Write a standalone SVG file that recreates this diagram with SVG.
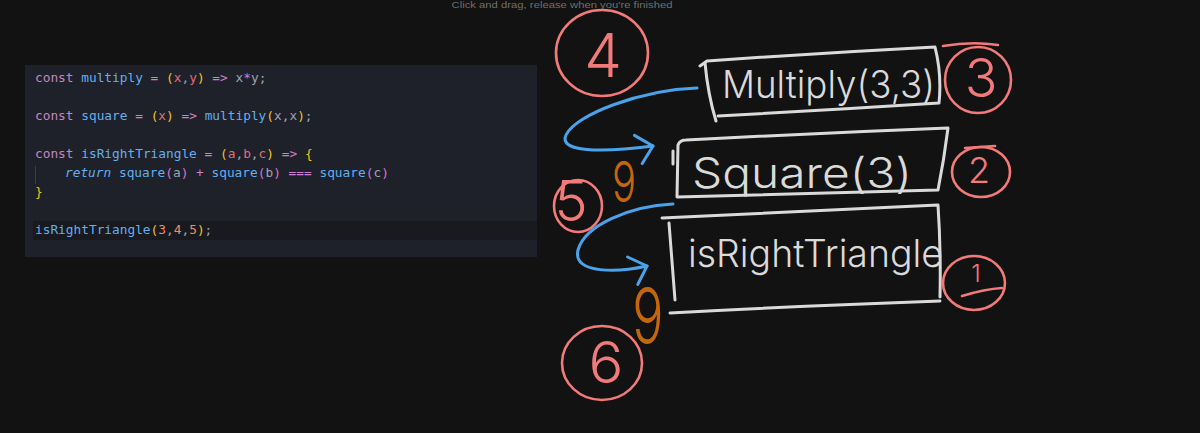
<svg xmlns="http://www.w3.org/2000/svg" width="1200" height="433" viewBox="0 0 1200 433">
<defs>
<style>
.code{font-family:"DejaVu Sans Mono","Liberation Mono",monospace;font-size:12.8px;fill:#9da3ad}
.kw{fill:#c586c0}.fn{fill:#61afef}.op{fill:#d27bc6}.b1{fill:#f2c21b}.b2{fill:#da70d6}.pa{fill:#e06c75}.pl{fill:#9da3ad}.nu{fill:#f08d5f}.rt{fill:#61afef;font-style:italic}
.box{fill:none;stroke:#dadada;stroke-width:3;stroke-linecap:round;stroke-linejoin:round}
.hw{font-family:Inter,"Liberation Sans",Arial,sans-serif;font-weight:300;fill:#dadada}
.ring{fill:none;stroke:#f27a7a;stroke-width:2.6;stroke-linecap:round}
.num{font-family:Inter,"Liberation Sans",Arial,sans-serif;font-weight:300;fill:#f27a7a;text-anchor:middle}
.flow{fill:none;stroke:#4aa3ea;stroke-width:3;stroke-linecap:round;stroke-linejoin:round}
.ret{font-family:Inter,"Liberation Sans",Arial,sans-serif;font-weight:300;fill:#c4660c;text-anchor:middle}
</style>
<marker id="chev" viewBox="-20 -20 24 40" markerWidth="24" markerHeight="40" refX="0" refY="0" orient="auto" markerUnits="userSpaceOnUse">
<path d="M-17,-13 L0,0 L-13,16" fill="none" stroke="#4aa3ea" stroke-width="3" stroke-linecap="round" stroke-linejoin="round"/>
</marker>
</defs>
<rect width="1200" height="433" fill="#121212"/>
<text x="562" y="8" font-family="Liberation Sans,Arial,sans-serif" font-size="9" fill="#6e6e6e" text-anchor="middle" textLength="221" lengthAdjust="spacingAndGlyphs">Click and drag, release when you're finished</text>

<g id="code-panel">
<rect x="25" y="65" width="512" height="192" fill="#1f212a"/>
<rect x="33" y="221" width="504" height="19" fill="#181a20"/>
<line x1="35.5" y1="166" x2="35.5" y2="184" stroke="#3a3d48" stroke-width="1"/>
<text class="code" x="35" y="82" xml:space="preserve"><tspan class="kw">const</tspan> <tspan class="fn">multiply</tspan> <tspan class="op">=</tspan> <tspan class="b1">(</tspan><tspan class="pa">x</tspan>,<tspan class="pa">y</tspan><tspan class="b1">)</tspan> <tspan class="op">=&gt;</tspan> x<tspan class="op">*</tspan>y;</text>
<text class="code" x="35" y="120" xml:space="preserve"><tspan class="kw">const</tspan> <tspan class="fn">square</tspan> <tspan class="op">=</tspan> <tspan class="b1">(</tspan><tspan class="pa">x</tspan><tspan class="b1">)</tspan> <tspan class="op">=&gt;</tspan> <tspan class="fn">multiply</tspan><tspan class="b1">(</tspan>x,x<tspan class="b1">)</tspan>;</text>
<text class="code" x="35" y="158" xml:space="preserve"><tspan class="kw">const</tspan> <tspan class="fn">isRightTriangle</tspan> <tspan class="op">=</tspan> <tspan class="b1">(</tspan><tspan class="pa">a</tspan>,<tspan class="pa">b</tspan>,<tspan class="pa">c</tspan><tspan class="b1">)</tspan> <tspan class="op">=&gt;</tspan> <tspan class="b1">{</tspan></text>
<text class="code" x="65" y="177" xml:space="preserve"><tspan class="rt">return</tspan> <tspan class="fn">square</tspan><tspan class="b2">(</tspan>a<tspan class="b2">)</tspan> <tspan class="op">+</tspan> <tspan class="fn">square</tspan><tspan class="b2">(</tspan>b<tspan class="b2">)</tspan> <tspan class="op">===</tspan> <tspan class="fn">square</tspan><tspan class="b2">(</tspan>c<tspan class="b2">)</tspan></text>
<text class="code" x="35" y="196"><tspan class="b1">}</tspan></text>
<text class="code" x="35" y="234" xml:space="preserve"><tspan class="fn">isRightTriangle</tspan><tspan class="b1">(</tspan><tspan class="nu">3</tspan>,<tspan class="nu">4</tspan>,<tspan class="nu">5</tspan><tspan class="b1">)</tspan>;</text>
</g>

<g id="frame-multiply">
<path class="box" d="M700,66 L707,61 Q820,53 935,47 Q942,75 939,103 Q830,110 718,116"/>
<path class="box" d="M705,63 Q708,95 716,121"/>
<text class="hw" x="722" y="98" font-size="38" textLength="213" lengthAdjust="spacingAndGlyphs">Multiply(3,3)</text>
</g>

<g id="frame-square">
<path class="box" d="M673,151 L673,164"/>
<path class="box" d="M677,197 L678,145 Q680,140 686,140 Q820,133 948,128 Q944,160 938,190 Q810,194 677,197"/>
<text class="hw" x="692" y="188" font-size="42" textLength="220" lengthAdjust="spacingAndGlyphs">Square(3)</text>
</g>

<g id="frame-isRightTriangle">
<path class="box" d="M662,218 Q800,212 938,205 Q941,250 940,297"/>
<path class="box" d="M669,223 L675,300"/>
<path class="box" d="M940,301 Q800,306 670,313"/>
<text class="hw" x="688" y="267" font-size="38" textLength="255" lengthAdjust="spacingAndGlyphs">isRightTriangle</text>
</g>

<g id="step-1">
<ellipse class="ring" cx="974" cy="283" rx="31" ry="27"/>
<path class="ring" d="M962,296 Q985,289 1002,288"/>
<text class="num" x="976" y="282" font-size="24">1</text>
</g>
<g id="step-2">
<ellipse class="ring" cx="981" cy="172" rx="29" ry="25"/>
<path class="ring" d="M965,148 L995,146"/>
<text class="num" x="979" y="183" font-size="36">2</text>
</g>
<g id="step-3">
<ellipse class="ring" cx="978" cy="80" rx="33" ry="33"/>
<path class="ring" d="M943,46 Q972,41 998,45"/>
<text class="num" x="981" y="97" font-size="54">3</text>
</g>
<g id="step-4">
<ellipse class="ring" cx="602" cy="53" rx="46" ry="43"/>
<text class="num" x="603" y="77" font-size="60">4</text>
</g>
<g id="step-5">
<ellipse class="ring" cx="578" cy="206" rx="24" ry="26"/>
<text class="num" x="571" y="221" font-size="56">5</text>
</g>
<g id="step-6">
<ellipse class="ring" cx="602" cy="363" rx="40" ry="37"/>
<text class="num" x="606" y="383" font-size="58">6</text>
</g>

<g id="connectors">
<path class="flow" d="M697,88 C640,90 575,115 566,135 C558,152 600,153 653,146" marker-end="url(#chev)"/>
<path class="flow" d="M673,204 C630,206 585,225 578,250 C572,275 620,272 647,266" marker-end="url(#chev)"/>
<text class="ret" transform="translate(624,202) scale(1,1.4)" font-size="40">9</text>
<text class="ret" transform="translate(648,343) scale(1.3,1.9)" font-size="40">9</text>
</g>
</svg>
